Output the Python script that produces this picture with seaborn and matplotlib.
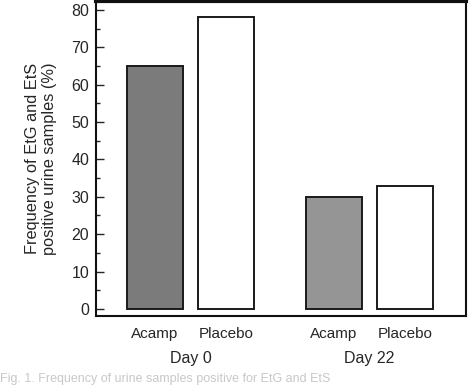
import pandas as pd
import seaborn as sns
import matplotlib.pyplot as plt
from matplotlib.ticker import MultipleLocator

days = ["Day 0", "Day 0", "Day 22", "Day 22"]
groups = ["Acamp", "Placebo", "Acamp", "Placebo"]
freq = [65, 78, 30, 33]
bar_colors = ["#7b7b7b", "#ffffff", "#959595", "#ffffff"]

df = pd.DataFrame({"day": days, "group": groups, "freq": freq})

sns.set_style("ticks")
plt.rcParams["font.family"] = ["Liberation Sans", "DejaVu Sans"]

fig = plt.figure(figsize=(4.74, 3.85), dpi=100)
ax = fig.add_axes([96 / 474, 1 - 316 / 385, 370 / 474, 315 / 385])

sns.barplot(data=df, x="day", y="freq", hue="group", order=["Day 0", "Day 22"],
            hue_order=["Acamp", "Placebo"], gap=0.22, width=0.8,
            edgecolor="#1a1a1a", linewidth=1.4, legend=False, ax=ax)

# recolour bars: seaborn draws hue level by level
bars = [p for p in ax.patches if p.get_height() > 0]
bars.sort(key=lambda p: p.get_x())
for p, c in zip(bars, bar_colors):
    p.set_facecolor(c)

ax.set_ylim(-1.9, 82.4)
ax.set_xlim(-0.528, 1.539)
ax.yaxis.set_major_locator(MultipleLocator(10))
ax.yaxis.set_minor_locator(MultipleLocator(5))
ax.tick_params(axis="y", which="major", direction="in", length=6, width=1,
               labelsize=11.5, pad=5)
ax.tick_params(axis="y", which="minor", direction="in", length=3, width=1)

# treatment names under the bars, day under each pair
centers = [p.get_x() + p.get_width() / 2 for p in bars]
ax.set_xticks(centers, minor=True)
ax.set_xticklabels(groups, minor=True)
ax.set_xticks([0, 1])
ax.set_xticklabels(["Day 0", "Day 22"])
ax.tick_params(axis="x", which="minor", length=0, labelsize=11, pad=8)
ax.tick_params(axis="x", which="major", length=0, labelsize=11.5, pad=25)
ax.set_xlabel("")

ax.set_ylabel("Frequency of EtG and EtS\npositive urine samples (%)",
              fontsize=11.8, labelpad=10, linespacing=1.15)

for s in ax.spines.values():
    s.set_visible(True)
    s.set_linewidth(1.5)
    s.set_color("#111111")
ax.spines["top"].set_linewidth(3)

fig.text(0.0, 0.0, "Fig. 1. Frequency of urine samples positive for EtG and EtS",
         fontsize=9, color="#c8c8c8", ha="left", va="bottom")

fig.savefig("out.png", dpi=100)
